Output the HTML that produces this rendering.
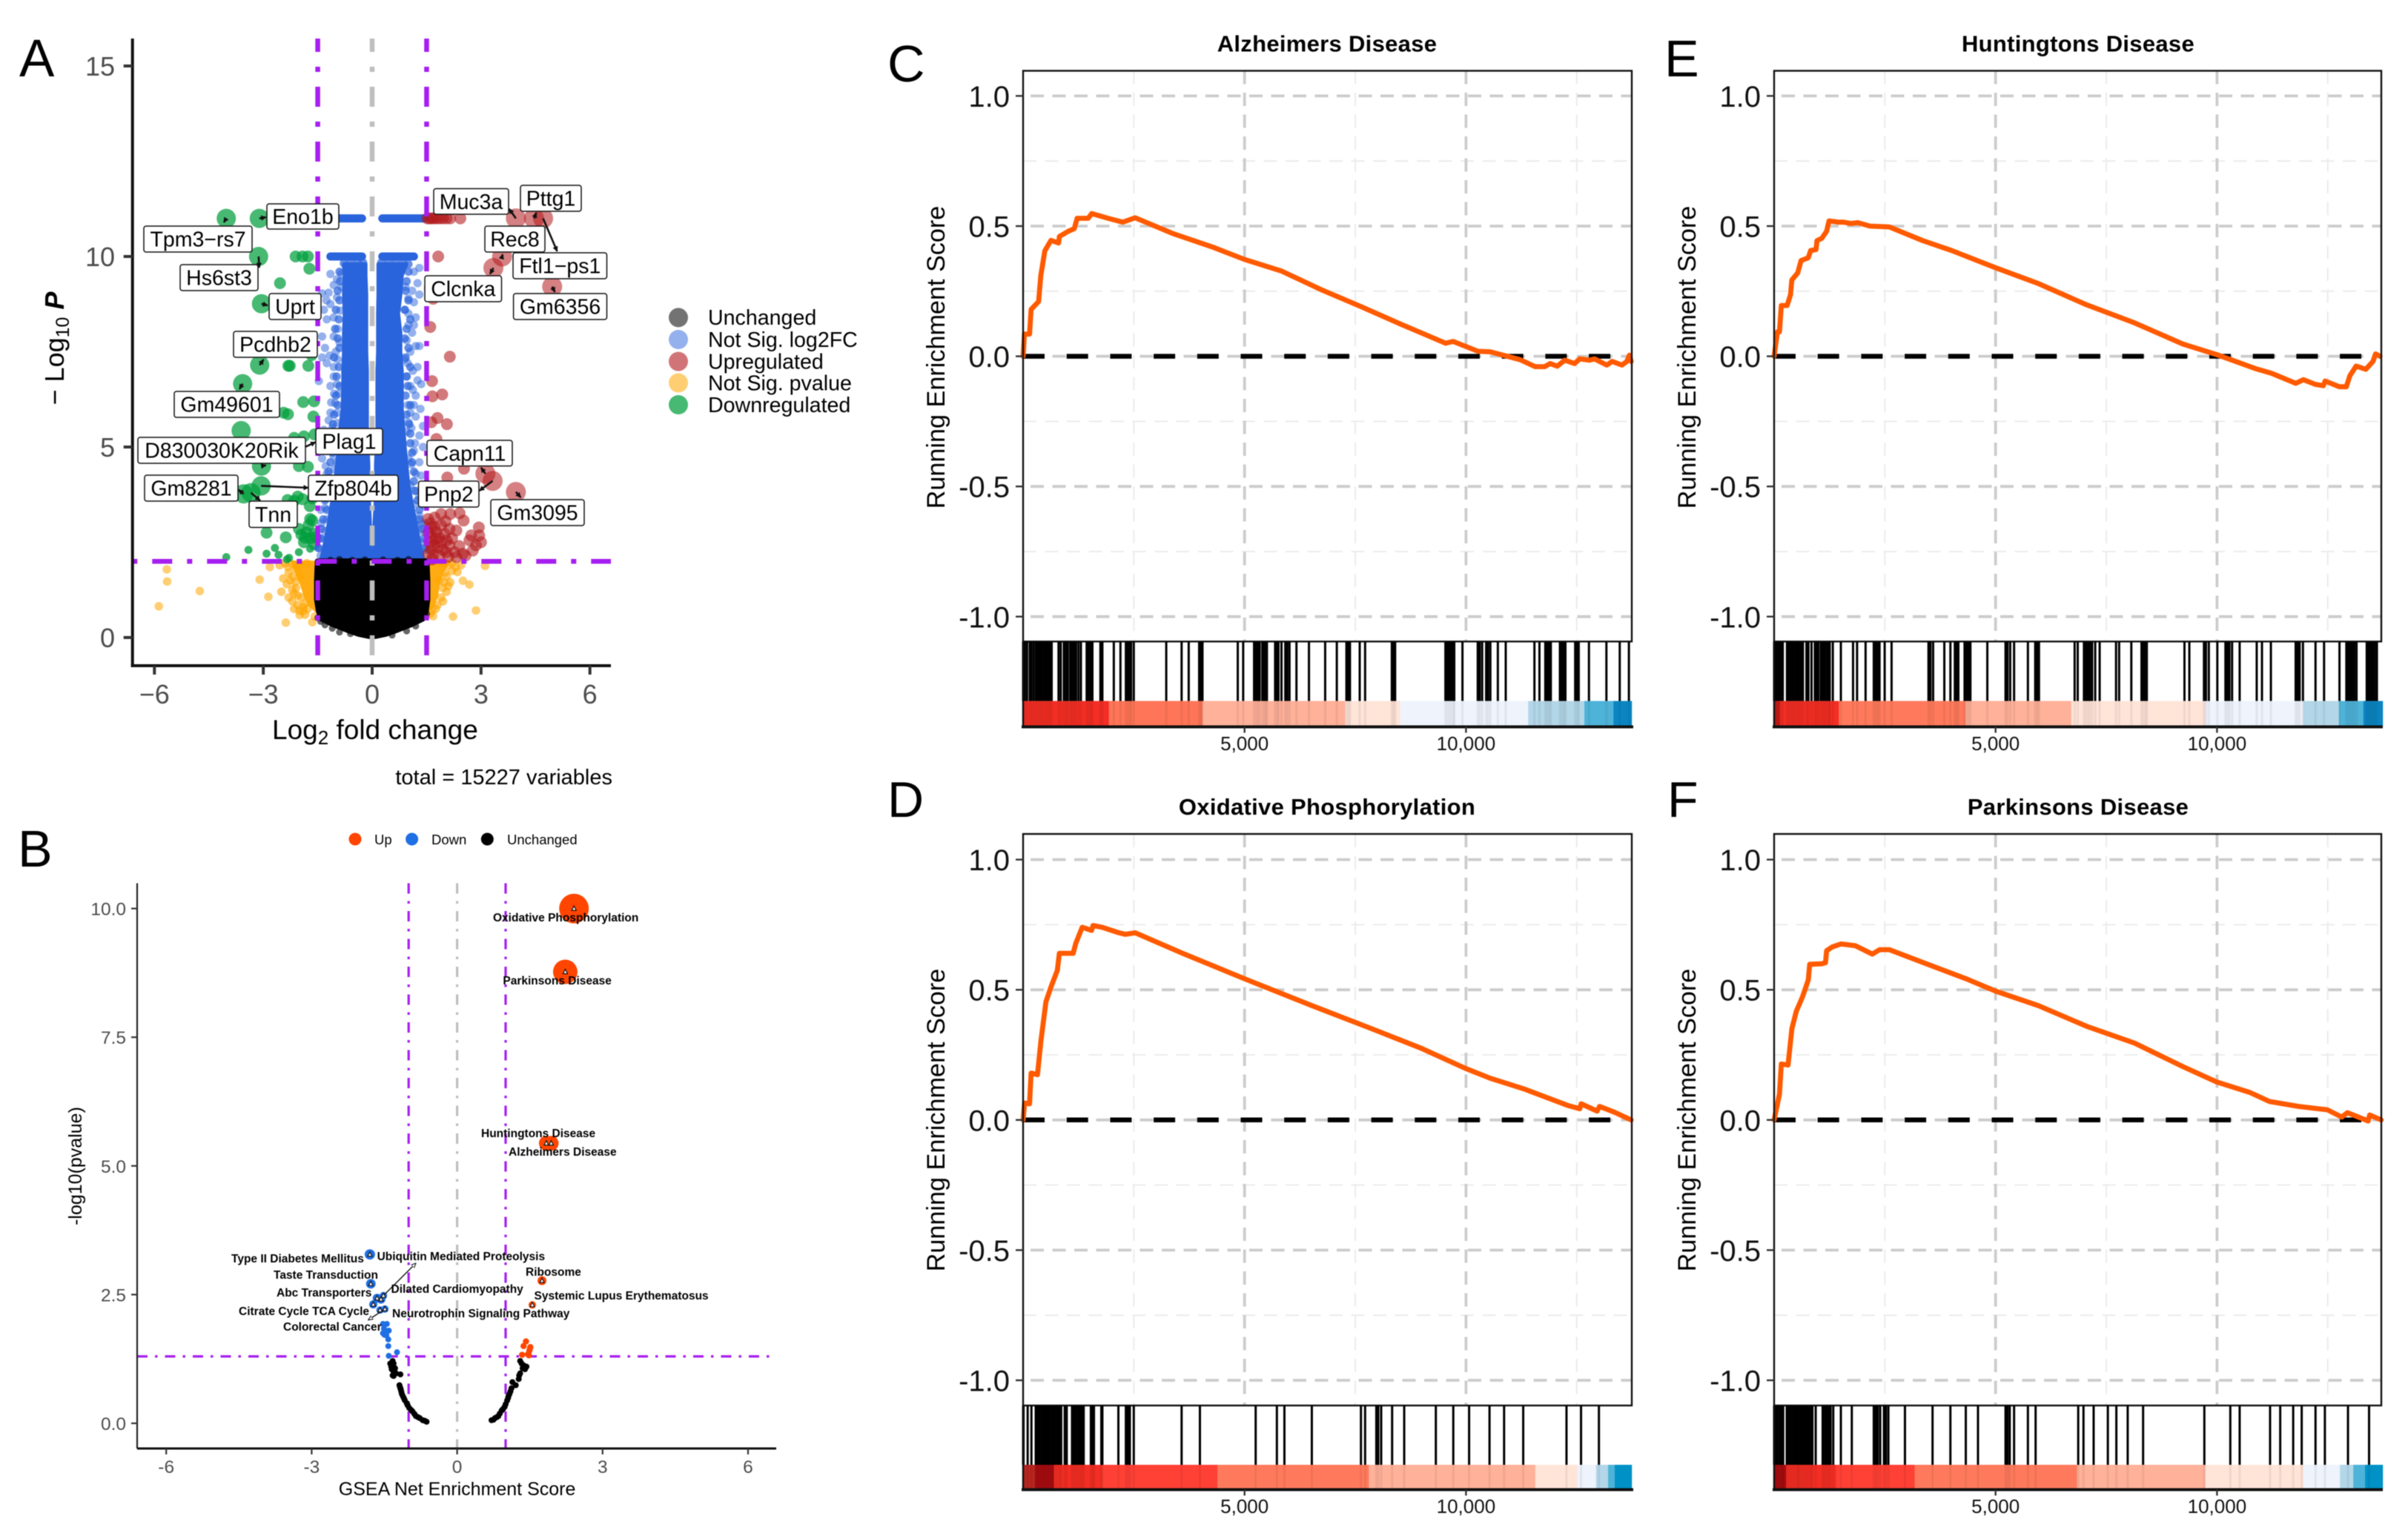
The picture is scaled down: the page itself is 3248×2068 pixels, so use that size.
<!DOCTYPE html>
<html lang="en">
<head>
<meta charset="utf-8">
<title>Volcano and GSEA figure</title>
<style>
html,body{margin:0;padding:0;background:#fff;}
svg{display:block;font-family:"Liberation Sans",Arial,sans-serif;filter:blur(0.6px);}
</style>
</head>
<body>
<svg id="fig" xmlns="http://www.w3.org/2000/svg" width="3248" height="2068" viewBox="0 0 3248 2068">
<rect width="3248" height="2068" fill="#fff"/>
<defs>
<marker id="ah" viewBox="0 0 10 10" refX="9" refY="5" markerWidth="2.8" markerHeight="2.8" orient="auto-start-reverse"><path d="M0 0L10 5L0 10z" fill="#111"/></marker>
<marker id="ahb" viewBox="0 0 10 10" refX="9" refY="5" markerWidth="5" markerHeight="5" orient="auto"><path d="M0 1L9 5L0 9z" fill="#fff" stroke="#111" stroke-width="1.5"/></marker>
</defs>

<text x="26" y="103" font-size="71">A</text>
<text x="24" y="1169" font-size="70">B</text>
<text x="1197" y="110" font-size="70">C</text>
<text x="1197" y="1102" font-size="68">D</text>
<text x="2245" y="103" font-size="70">E</text>
<text x="2249" y="1102" font-size="68">F</text>

<g id="panelA"></g>
<text x="367" y="997" font-size="37">Log<tspan font-size="26" dy="7">2</tspan><tspan dy="-7"> fold change</tspan></text>
<text transform="rotate(-90 86 470)" x="86" y="470" text-anchor="middle" font-size="36">− Log<tspan font-size="25" dy="7">10</tspan><tspan dy="-7"> </tspan><tspan font-style="italic" font-weight="bold">P</tspan></text>
<text x="826" y="1058" text-anchor="end" font-size="29">total = 15227 variables</text>

<g>
<circle cx="915" cy="428.4" r="13" fill="#000" opacity=".55"/>
<circle cx="915" cy="458" r="13" fill="#2a64dc" opacity=".5"/>
<circle cx="915" cy="487.6" r="13" fill="#b2181c" opacity=".6"/>
<circle cx="915" cy="516.5" r="13" fill="#ffa500" opacity=".55"/>
<circle cx="915" cy="546" r="13" fill="#009e3c" opacity=".72"/>
<text x="955" y="438" font-size="28.6">Unchanged</text>
<text x="955" y="468" font-size="28.6">Not Sig. log2FC</text>
<text x="955" y="497.5" font-size="28.6">Upregulated</text>
<text x="955" y="526.5" font-size="28.6">Not Sig. pvalue</text>
<text x="955" y="556" font-size="28.6">Downregulated</text>
</g>

<g id="panelB"></g>
<text x="616.6" y="2026" text-anchor="middle" font-size="25" transform="translate(0,-9)">GSEA Net Enrichment Score</text>
<text transform="rotate(-90 110 1573)" x="110" y="1573" text-anchor="middle" font-size="25">-log10(pvalue)</text>
<g>
<circle cx="479" cy="1132" r="8.5" fill="#ff4500"/>
<circle cx="555.6" cy="1132" r="8.5" fill="#1f6fe5"/>
<circle cx="657.3" cy="1132" r="8.5" fill="#000"/>
<text x="505" y="1139" font-size="18.5">Up</text>
<text x="582" y="1139" font-size="18.5">Down</text>
<text x="684" y="1139" font-size="18.5">Unchanged</text>
</g>

<g id="panelC"></g>
<g id="panelD"></g>
<g id="panelE"></g>
<g id="panelF"></g>

<text x="1790" y="69.5" text-anchor="middle" font-size="31" font-weight="bold" letter-spacing="0.3">Alzheimers Disease</text>
<text x="1790" y="1099" text-anchor="middle" font-size="31" font-weight="bold" letter-spacing="0.3">Oxidative Phosphorylation</text>
<text x="2803" y="69.5" text-anchor="middle" font-size="31" font-weight="bold" letter-spacing="0.3">Huntingtons Disease</text>
<text x="2803" y="1099" text-anchor="middle" font-size="31" font-weight="bold" letter-spacing="0.3">Parkinsons Disease</text>
<text transform="rotate(-90 1274 482)" x="1274" y="482" text-anchor="middle" font-size="34.2">Running Enrichment Score</text>
<text transform="rotate(-90 1274 1511)" x="1274" y="1511" text-anchor="middle" font-size="34.2">Running Enrichment Score</text>
<text transform="rotate(-90 2287 482)" x="2287" y="482" text-anchor="middle" font-size="34.2">Running Enrichment Score</text>
<text transform="rotate(-90 2287 1511)" x="2287" y="1511" text-anchor="middle" font-size="34.2">Running Enrichment Score</text>
</svg>

<script>
/* ---------- Panel A data: log2 fold change, -log10 P ---------- */
const volcanoXTicks = [-6, -3, 0, 3, 6];
const volcanoYTicks = [0, 5, 10, 15];
const volcanoFcCut = 1.5;
const volcanoPCut = 2;

const greenBig = [[-4.02,11],[-3.11,11],[-3.13,10],[-3.05,8.76],[-3.10,7.15],[-3.57,6.66],[-3.61,5.43],[-3.05,4.5],[-3.06,3.98],[-3.34,3.8],[-3.54,3.77]];
const greenSmall = [[-2.11,10],[-1.92,10],[-1.77,10],[-1.73,9.68],[-2.54,9.3],[-2.31,7.13],[-2.27,7.13],[-1.76,7.13],[-1.67,7.41],[-1.9,6.18],[-1.6,6.2],[-2.32,5.86],[-2.44,5.9],[-1.62,5.8],[-2.15,5.24],[-1.88,5.28],[-1.59,5.33],[-2.02,4.5],[-1.77,4.48],[-2.33,3.61],[-1.92,3.63],[-2.15,3.59],[-1.65,3.65],[-1.71,3.11],[-2.02,2.85],[-2.91,2.75],[-2.38,2.63],[-1.81,2.76],[-1.6,2.72],[-1.88,2.5],[-1.56,2.63],[-1.65,3.07],[-1.75,2.95],[-1.85,2.62],[-1.7,2.6],[-1.6,2.45],[-1.95,2.7],[-1.72,3.45],[-2.05,3.7]];
const greenTiny = [[-1.71,2.33],[-2.02,2.24],[-2.68,2.35],[-2.91,2.2],[-2.58,2.17],[-3.41,2.3],[-4.02,2.11],[-2.29,2.09],[-2.35,2.05]];

const redBig = [[3.96,11],[4.46,11],[4.71,11],[3.58,10],[3.34,9.7],[4.96,9.21],[3.12,4.3],[3.32,4.11],[3.96,3.82]];
const redSmall = [[1.82,10],[2.43,11],[1.68,8.89],[1.6,8.15],[2.14,7.37],[1.65,6.73],[1.66,6.33],[1.93,6.38],[1.8,5.76],[1.63,5.65],[2.06,5.6],[1.77,5.21],[2.53,4.43],[2.07,4.2],[1.52,11],[1.58,11],[1.64,11],[1.7,11],[1.78,11],[1.86,11],[1.95,11],[2.05,11],[2.15,11],[1.9,3.24],[2.15,3.24],[2.41,3.26],[2.52,3.07],[1.72,3.15],[1.54,3.11],[2.94,2.89],[1.63,2.89],[1.9,2.94],[2.13,2.85],[2.32,2.81],[1.77,2.76],[2.0,2.72],[2.73,2.68],[2.95,2.68],[2.68,2.55],[3.0,2.5],[1.63,2.63],[1.9,2.5],[2.13,2.42],[2.77,2.28],[2.5,2.2],[2.27,2.24],[2.04,2.24],[1.81,2.37],[1.63,2.33],[1.68,2.15],[2.86,2.42],[2.57,2.15],[2.32,2.11],[1.85,2.62],[2.05,2.55],[1.72,2.9],[1.6,3.0],[1.75,2.6],[1.58,2.5],[1.7,2.42],[1.55,2.75],[1.95,2.3],[2.2,2.6],[1.85,2.15],[2.1,2.12],[1.55,2.2],[2.4,2.4],[2.02,3.05],[1.65,2.05]];

const orangeOutliers = [[-5.66,1.79],[-5.65,1.47],[-4.75,1.22],[-5.88,0.82],[-3.1,1.52],[-2.86,1.07],[-2.82,1.85],[-2.38,0.39],[-2.0,0.59],[-1.65,0.4],[3.11,1.88],[2.5,1.49],[2.68,1.39],[2.86,0.71],[2.23,0.55],[1.68,0.56],[-1.58,0.55],[1.6,0.62]];
const orangeLeft = [[-2.4,1.95],[-2.55,1.9],[-2.3,1.7],[-2.45,1.55],[-2.35,1.4],[-2.5,1.2],[-2.2,1.25],[-2.3,1.05],[-2.2,0.95],[-2.05,0.85],[-2.15,0.75],[-2.0,0.7],[-1.9,0.8],[-1.85,0.6],[-2.2,1.6],[-2.1,1.8],[-2.25,1.5],[-2.1,1.3],[-2.15,1.15],[-1.95,1.05],[-1.85,0.9],[-2.0,1.9],[-2.2,1.92],[-1.8,1.95],[-2.32,1.85],[-2.12,1.45],[-2.0,1.6],[-2.05,1.1],[-1.9,0.7],[-1.78,0.75]];
const orangeRight = [[2.1,1.9],[2.3,1.85],[2.45,1.9],[2.2,1.75],[2.05,1.6],[2.15,1.45],[1.95,1.3],[2.05,1.2],[1.9,1.05],[1.95,0.95],[1.8,0.85],[1.75,0.75],[1.65,0.7],[2.0,1.7],[1.85,1.5],[1.9,1.93],[2.0,1.95],[2.2,1.95],[2.35,1.72],[2.1,1.35],[1.98,1.45]];
const orangeBandY = [1.98,1.7,1.4,1.1,0.85,0.7];
const orangeBandLeft = [-2.2,-2.08,-1.95,-1.85,-1.72,-1.55];
const orangeBandRight = [2.1,1.92,1.82,1.78,1.68,1.55];

const blueScatter = [[-1.15,9.54],[-0.97,9.4],[-1.06,9.25],[-0.85,9.2],[-1.38,9.03],[-1.26,8.85],[-0.97,8.93],[-1.25,8.35],[-1.06,8.4],[-0.88,8.58],[-1.38,7.9],[-1.06,7.9],[-1.3,7.6],[-1.17,7.4],[-1.25,7.2],[-1.06,7.1],[-1.47,6.73],[-1.06,6.85],[-1.15,6.6],[-0.97,6.65],[-1.13,6.17],[-1.15,5.9],[-1.02,6.15],[-0.97,5.9],[-1.33,5.45],[-0.97,5.63],[-1.15,5.2],[-1.42,5.28],[-0.97,5],[-1.24,4.89],[-1.06,4.76],[-0.97,4.58],[-1.28,4.5],[-1.06,4.41],[-1.2,4.1],[-1.35,3.8],[-1.1,3.9],[-1.3,3.4],[-1.25,3.1],[-1.4,3.0],[-1.4,2.6],[-1.3,2.8],[-0.95,8.1],[-0.9,7.75],[-1.0,7.5],[-0.95,7.3],[-1.15,8.75],[-1.33,8.6],[-1.2,9.05],[-0.92,6.4],[-1.05,6.4],[-0.98,5.35],[-1.1,5.5],[-1.2,5.7],[-1.25,4.3],[-1.38,4.7],[-1.45,4.15],[-1.28,3.65],[-1.42,3.35],[-1.48,2.35],[-1.42,2.15],[-0.85,9.55],[-1.38,7.35],
[1.3,9.7],[1.15,9.6],[1.25,9.3],[1.1,9.1],[1.3,9.0],[1.0,8.9],[1.15,8.8],[1.0,8.5],[1.2,8.4],[1.0,8.2],[1.1,8.0],[0.95,7.8],[1.3,7.65],[1.2,7.65],[1.05,7.5],[1.25,7.1],[0.98,7.2],[1.35,6.65],[1.05,6.6],[1.12,6.5],[1.2,6.35],[0.98,6.1],[1.33,6.0],[1.05,5.9],[1.2,5.8],[1.08,5.5],[1.3,5.3],[0.95,5.4],[1.4,5.0],[1.15,4.9],[1.0,4.7],[1.3,4.6],[1.2,4.3],[1.05,4.0],[1.3,3.7],[1.15,3.5],[1.3,3.2],[1.45,3.0],[1.35,2.8],[1.4,2.5],[0.92,9.2],[0.9,8.6],[1.15,8.2],[0.9,7.3],[1.12,7.0],[0.95,6.85],[1.25,6.75],[1.15,6.1],[1.0,5.65],[1.4,5.55],[1.18,5.1],[1.08,4.55],[1.35,4.25],[1.45,3.45],[1.15,3.85],[1.22,2.95],[1.48,2.3],[1.35,3.0]];
const blueEdge = [[-0.9,9.6],[-0.88,9.35],[-0.95,9.1],[-0.9,8.85],[-1.0,8.6],[-0.92,8.35],[-1.02,8.1],[-0.95,7.85],[-0.9,7.6],[-1.05,7.35],[-0.92,7.1],[-0.98,6.85],[-0.9,6.6],[-1.0,6.35],[-0.95,6.1],[-1.05,5.85],[-1.08,5.6],[-1.0,5.35],[-1.12,5.1],[-1.1,4.85],[-1.15,4.6],[-1.2,4.35],[-1.2,4.1],[-1.25,3.85],[-1.3,3.6],[-1.25,3.35],[-1.35,3.1],[-1.4,2.85],[-1.42,2.6],[-1.48,2.35],
[1.0,9.6],[0.95,9.35],[0.92,9.1],[1.0,8.85],[0.9,8.6],[1.05,8.35],[0.95,8.1],[0.9,7.85],[1.0,7.6],[0.92,7.35],[1.05,7.1],[0.95,6.85],[0.98,6.6],[0.92,6.35],[1.05,6.1],[0.95,5.85],[1.02,5.6],[1.05,5.35],[1.05,5.1],[1.1,4.85],[1.1,4.6],[1.15,4.35],[1.15,4.1],[1.2,3.85],[1.25,3.6],[1.3,3.35],[1.3,3.1],[1.38,2.85],[1.42,2.6],[1.46,2.35],
[-0.78,9.82],[-0.6,9.84],[-0.4,9.84],[-0.25,9.84],[0.25,9.84],[0.45,9.84],[0.65,9.84],[0.85,9.82],[1.0,9.8]];

const blueBandY = [2.0,2.5,3,3.5,4,4.5,5,5.5,6,6.5,7,7.5,8,8.5,9,9.5,9.8];
const blueLeftOuter = [-1.42,-1.3,-1.2,-1.12,-1.02,-0.98,-0.92,-0.88,-0.82,-0.8,-0.8,-0.78,-0.78,-0.76,-0.78,-0.76,-0.78];
const blueLeftInner = [-0.04,-0.05,-0.06,-0.08,-0.11,-0.1,-0.12,-0.14,-0.14,-0.14,-0.14,-0.16,-0.16,-0.16,-0.16,-0.18,-0.18];
const blueRightOuter = [1.42,1.3,1.2,1.1,1.0,0.95,0.9,0.86,0.82,0.82,0.82,0.78,0.78,0.72,0.78,0.82,0.95];
const blueRightInner = [0.04,0.06,0.06,0.09,0.11,0.1,0.12,0.14,0.14,0.14,0.14,0.16,0.16,0.16,0.17,0.17,0.17];
const blueRow11 = [-1.4,-0.28,0.28,1.45];
const blueRow10 = [-1.15,-0.28,0.28,1.15];

const blackBandY = [2.0,1.5,1.0,0.7,0.5,0.35,0.2,0.1,0.04];
const blackLeft = [-1.5,-1.52,-1.52,-1.47,-1.4,-1.08,-0.68,-0.38,-0.08];
const blackRight = [1.5,1.52,1.52,1.48,1.4,1.08,0.68,0.38,0.08];
const blackEdge = [[-1.5,0.52],[-1.42,0.42],[-1.3,0.33],[-1.1,0.24],[-0.9,0.14],[-0.6,0.1],[1.5,0.62],[1.48,0.55],[1.2,0.3],[0.95,0.17],[0.55,0.06],[-1.15,2.03],[-0.9,2.05],[-0.55,2.03],[-0.2,2.04],[0.3,2.04],[0.7,2.03],[1.0,2.05]];

const calloutNames = ['Tpm3−rs7','Eno1b','Hs6st3','Uprt','Pcdhb2','Gm49601','D830030K20Rik','Plag1','Gm8281','Zfp804b','Tnn','Muc3a','Pttg1','Rec8','Ftl1−ps1','Clcnka','Gm6356','Capn11','Pnp2','Gm3095'];
const calloutPointX = [-4.02,-3.11,-3.13,-3.05,-3.10,-3.57,-3.05,-1.85,-3.54,-3.06,-3.34,3.96,4.46,3.58,4.71,3.34,4.96,3.12,3.32,3.96];
const calloutPointY = [11,11,10,8.76,7.15,6.66,4.5,5.0,3.77,3.98,3.8,11,11,10,11,9.7,9.21,4.3,4.11,3.82];
/* label layout in page pixels, not data: left, top, right, bottom, arrow tip x, y */
const calloutLayout = [[194,305,340,340,302,300],[360,275,457,309,358.7,293],[243,357,348,392,349.7,361],[363,396,433,431,361,412],[315,447,428,482,355.5,485],[235,528,377,563,323,525],[186,590,412,625,358.7,627.7],[426,578,516,613,425.6,596.4],[195,641,321,676,321.6,660.7],[416,641,537,676,416,658],[336,676,401,711.5,351,675.4],[585,254.5,686,289,686.8,281.7],[702,250,784,285,723.4,287],[654,305,735,340,678,343],[692,341,818.5,376,751.5,339],[573,372,676.5,407,661,369.6],[692.6,396,818.5,431,748.4,394],[576,594,691,628.6,648.8,630.8],[564.5,649,646,684,646.6,662],[662,674,788,709,702.4,671]];

/* ---------- Panel B data: NES, -log10 p ---------- */
const pathwayXTicks = [-6,-3,0,3,6];
const pathwayYTicks = [0,2.5,5,7.5,10];
const pathwayYTickLabels = ['0.0','2.5','5.0','7.5','10.0'];
const pathwayFcCut = 1;
const pathwayPCut = 1.3;
const upLarge = [[2.41,10.0,20],[2.23,8.77,16.5],[1.84,5.44,10],[1.94,5.44,10],[1.75,2.77,6],[1.55,2.3,5]];
const upSmall = [[1.42,1.59],[1.37,1.5],[1.51,1.48],[1.49,1.41],[1.46,1.34],[1.34,1.33],[1.48,1.32],[1.5,1.45]];
const downLarge = [[-1.8,3.28,7],[-1.78,2.71,6.5],[-1.65,2.43,6],[-1.57,2.41,6],[-1.52,2.48,5],[-1.73,2.31,5.5],[-1.59,2.2,5],[-1.49,2.22,5]];
const downSmall = [[-1.53,1.93],[-1.45,1.93],[-1.51,1.84],[-1.44,1.79],[-1.41,1.8],[-1.53,1.75],[-1.46,1.71],[-1.42,1.63],[-1.42,1.5],[-1.24,1.38],[-1.41,1.31],[-1.48,1.78],[-1.5,1.72]];
const unchangedPathways = [[-1.33,1.21],[-1.38,1.16],[-1.31,1.16],[-1.36,1.1],[-1.28,1.07],[-1.33,1.03],[-1.26,0.97],[-1.33,0.93],[-1.17,0.95],[-1.31,0.92],[-1.29,1.0],[-1.35,1.05],[-1.19,0.74],[-1.17,0.68],[-1.18,0.71],[-1.15,0.61],[-1.16,0.65],[-1.12,0.53],[-1.14,0.57],[-1.08,0.45],[-1.1,0.49],[-1.04,0.39],[-0.99,0.3],[-1.02,0.35],[-0.92,0.23],[-0.95,0.26],[-0.85,0.14],[-0.88,0.18],[-0.77,0.1],[-0.81,0.12],[-0.71,0.06],[-0.63,0.03],[-0.67,0.05],
[1.3,1.21],[1.33,1.16],[1.38,1.12],[1.43,1.1],[1.35,1.07],[1.4,1.05],[1.28,0.93],[1.27,0.86],[1.3,0.97],[1.14,0.8],[1.21,0.74],[1.1,0.62],[1.12,0.68],[1.06,0.53],[1.08,0.57],[1.03,0.44],[1.05,0.49],[0.98,0.32],[1.0,0.37],[0.92,0.25],[0.95,0.28],[0.85,0.14],[0.88,0.19],[0.78,0.1],[0.82,0.12],[0.71,0.06],[0.75,0.07]];
const pathwayNames = ['Oxidative Phosphorylation','Parkinsons Disease','Huntingtons Disease','Alzheimers Disease','Type II Diabetes Mellitus','Ubiquitin Mediated Proteolysis','Taste Transduction','Ribosome','Dilated Cardiomyopathy','Systemic Lupus Erythematosus','Abc Transporters','Citrate Cycle TCA Cycle','Neurotrophin Signaling Pathway','Colorectal Cancer'];
const pathwayPointX = [2.41,2.23,1.84,1.94,-1.8,-1.52,-1.78,1.75,-1.65,1.55,-1.73,-1.57,-1.49,-1.59];
const pathwayPointY = [10.0,8.77,5.44,5.44,3.28,2.48,2.71,2.77,2.43,2.3,2.31,2.41,2.22,2.2];
/* label layout in page pixels: text left, baseline */
const pathwayLabelLayout = [[665,1243],[678.4,1328],[649,1534],[686,1559],[312,1703],[508.6,1700],[369,1725],[709,1721],[527.5,1744],[720.5,1753],[373,1749],[322,1774],[529,1777],[382,1795]];
const arrowFromPoints = [5,12];
const arrowTipsPx = [[561,1704],[496.7,1780.7]];

/* ---------- Panels C-F data: gene rank, running enrichment score ---------- */
const rankTicks = [5000,10000];
const rankTickLabels = ['5,000','10,000'];
const rankMinor = [2500,7500,12500];
const esMajor = [1,0.5,0,-0.5,-1];
const esMajorLabels = ['1.0','0.5','0.0','-0.5','-1.0'];
const esMinor = [0.75,0.25,-0.25,-0.75];

const alzRank = [0,30,145,180,350,400,490,630,800,820,1020,1155,1220,1470,1550,1920,2250,2530,3370,4270,5000,5840,6740,7640,8530,9540,9710,10270,10550,11220,11560,11780,11900,12060,12230,12450,12570,12790,12900,13180,13300,13520,13630,13690,13730];
const alzScore = [0,0.085,0.085,0.18,0.21,0.31,0.405,0.445,0.435,0.46,0.48,0.49,0.53,0.53,0.548,0.53,0.515,0.532,0.472,0.42,0.372,0.327,0.255,0.19,0.123,0.05,0.057,0.019,0.017,-0.013,-0.04,-0.04,-0.028,-0.038,-0.015,-0.028,-0.01,-0.015,-0.01,-0.034,-0.02,-0.034,-0.02,0.004,-0.02];
const alzHits = [0,40,90,150,190,240,290,335,380,425,470,515,560,605,645,800,850,920,970,1010,1065,1105,1150,1195,1250,1305,1435,1480,1525,1565,1745,1790,2048,2198,2320,2365,2410,2438,2499,3232,3579,3739,3975,4015,4050,4847,4969,5215,5260,5300,5340,5400,5445,5480,5505,5690,5735,5765,5834,5920,5965,6015,6172,6454,6820,7083,7300,7345,7380,7600,7722,8325,8365,8400,9535,9580,9625,9670,9715,9735,9920,10265,10310,10365,10455,10500,10550,10719,10897,11545,11658,11790,11835,11880,11915,12120,12165,12210,12245,12465,12510,12545,12776,13170,13471,13678];
const alzBinEnd = [1935,4049,7271,8511,11404,12672,13330,13740];
const alzBinColor = ['#f42e24','#ff7558','#ffb199','#ffe4d8','#eef3fc','#b3d7e8','#4eb3d9','#0b85c2'];

const oxRank = [0,34,146,180,325,404,516,628,774,818,1130,1188,1334,1547,1580,1783,2140,2310,2530,3600,5000,6510,7860,8980,9990,10550,11330,12290,12570,12600,12960,13015,13350,13730];
const oxScore = [0,0.065,0.062,0.18,0.174,0.305,0.454,0.51,0.575,0.64,0.64,0.678,0.74,0.728,0.747,0.74,0.72,0.713,0.719,0.64,0.542,0.44,0.351,0.276,0.198,0.16,0.118,0.056,0.043,0.062,0.034,0.052,0.03,0];
const oxHits = [0,10,103,188,285,330,375,420,465,510,555,600,645,690,735,780,825,860,940,985,1105,1150,1195,1240,1285,1330,1368,1530,1570,1600,1766,1790,2151,2320,2365,2410,2499,3579,3992,5251,5730,5900,6519,7628,7722,7975,8020,8085,8332,8605,9319,9713,10070,10531,10860,11292,12269,12597,13001];
const oxBinEnd = [270,695,1775,4387,7806,11564,12513,12936,13208,13358,13740];
const oxBinColor = ['#b8261f','#a80c0f','#f42e24','#ff4035','#ff7a5c','#ffb199','#ffe4d8','#eef3fc','#b3d7e8','#4eb3d9','#0091c7'];

const hunRank = [0,76,120,163,293,370,400,533,609,770,826,945,967,1076,1185,1240,1457,1570,1728,1890,2163,2600,3360,4010,5000,5970,7050,8140,9230,10000,10860,11240,11780,11950,12220,12400,12440,12760,12920,13000,13140,13360,13520,13580,13680];
const hunScore = [0,0.094,0.094,0.195,0.195,0.236,0.293,0.32,0.368,0.378,0.406,0.41,0.444,0.453,0.48,0.52,0.515,0.515,0.51,0.513,0.5,0.497,0.444,0.406,0.34,0.279,0.198,0.128,0.047,0.006,-0.047,-0.066,-0.104,-0.09,-0.108,-0.113,-0.095,-0.117,-0.117,-0.075,-0.038,-0.05,-0.02,0.009,0];
const hunHits = [0,25,60,105,150,195,290,335,380,425,470,515,560,605,650,730,775,845,920,960,1000,1055,1100,1145,1190,1235,1255,1325,1507,1782,1873,2065,2250,2295,2340,2380,2496,2652,3485,3530,3590,3843,3980,4080,4120,4160,4300,4345,4390,4432,4814,5225,5270,5330,5418,5730,5895,5940,5980,6785,6855,6995,7040,7085,7130,7180,7250,7350,7720,7790,8065,8295,8340,8385,8415,9265,9375,9705,9750,9815,10007,10190,10235,10280,10340,10511,10896,11015,11216,11775,11820,11865,11940,12224,12417,12765,12920,12965,13010,13055,13100,13150,13380,13425,13470,13515,13560,13610];
const hunBinEnd = [130,1461,4319,6710,9733,11950,12755,13305,13740];
const hunBinColor = ['#c81b17','#f42e24','#ff7a5c','#ffb199','#ffe4d8','#eef3fc','#b3d7e8','#4eb3d9','#0b85c2'];

const parRank = [0,120,163,315,402,500,641,772,804,1076,1160,1185,1315,1511,1837,2217,2380,2600,3467,4337,5000,5967,7054,8141,9228,9990,10750,11185,11837,12490,12815,12945,13413,13446,13707];
const parScore = [0,0.099,0.215,0.211,0.351,0.417,0.473,0.538,0.598,0.6,0.604,0.65,0.665,0.676,0.669,0.637,0.654,0.654,0.598,0.542,0.495,0.439,0.36,0.295,0.205,0.146,0.105,0.071,0.052,0.039,0.011,0.028,-0.004,0.019,0];
const parHits = [0,45,90,135,180,205,285,330,375,420,465,510,545,560,605,650,695,740,785,830,865,939,1095,1140,1185,1230,1275,1335,1507,1754,2250,2295,2340,2395,2480,2525,2580,2954,3577,3980,4328,4603,5225,5270,5320,5418,5730,5904,6866,6985,7214,7535,7727,7983,8331,9714,10300,10511,11198,11427,11720,11912,12224,12435,12957,13433];
const parBinEnd = [270,1400,3173,6838,9733,11950,12775,13077,13343,13740];
const parBinColor = ['#a80c0f','#f42e24','#ff4035','#ff7a5c','#ffb199','#ffe4d8','#eef3fc','#b3d7e8','#4eb3d9','#0091c7'];

/* ---------- helpers ---------- */
const NS = 'http://www.w3.org/2000/svg';
function mk(tag, attrs, parent) {
  const el = document.createElementNS(NS, tag);
  for (const k in attrs) el.setAttribute(k, attrs[k]);
  parent.appendChild(el);
  return el;
}
function bandPath(ys, a, b, sx, sy) {
  const pts = [];
  ys.forEach((y, i) => pts.push(sx(a[i]).toFixed(1) + ',' + sy(y).toFixed(1)));
  for (let i = ys.length - 1; i >= 0; i--) pts.push(sx(b[i]).toFixed(1) + ',' + sy(ys[i]).toFixed(1));
  return pts.join(' ');
}

/* ---------- Panel A ---------- */
(function () {
  const root = document.getElementById('panelA');
  const sx = v => 502 + 48.95 * v;
  const sy = v => 860 - 51.4 * v;
  const AX_L = 178.7, AX_B = 898, AX_R = 824, AX_T = 52;

  function dots(list, r, fill, op, name) {
    list.forEach(d => {
      const c = mk('circle', {cx: sx(d[0]), cy: sy(d[1]), r: r, fill: fill, opacity: op}, root);
      
      
    });
  }
  function band(ys, a, b, fill, sw, name, op) {
    const p = mk('polygon', {points: bandPath(ys, a, b, sx, sy), fill: fill, stroke: fill, 'stroke-width': sw, 'stroke-linejoin': 'round', opacity: op}, root);
    
    
  }
  function row(y, from, to, color, name) {
    const l = mk('line', {x1: sx(from), x2: sx(to), y1: sy(y), y2: sy(y), stroke: color, 'stroke-width': 11, 'stroke-linecap': 'round'}, root);
    
    
  }

  band(orangeBandY, orangeBandLeft, orangeBandRight, '#ffa500', 4, 'not-sig-pvalue-density', 0.92);
  dots(orangeOutliers, 5.8, '#ffa500', 0.55, 'not-sig-pvalue-point');
  dots(orangeLeft, 5.8, '#ffa500', 0.6, 'not-sig-pvalue-point');
  dots(orangeRight, 5.8, '#ffa500', 0.6, 'not-sig-pvalue-point');

  dots(greenBig, 13, '#009e3c', 0.72, 'downregulated-point-large');
  dots(greenSmall, 8, '#009e3c', 0.72, 'downregulated-point');
  dots(greenTiny, 5.4, '#009e3c', 0.78, 'downregulated-point-small');

  dots(blueScatter, 5.6, '#2a64dc', 0.5, 'not-sig-log2fc-point');
  dots(blueEdge, 5.6, '#2a64dc', 0.72, 'not-sig-log2fc-edge-point');
  band(blueBandY, blueLeftOuter, blueLeftInner, '#2a64dc', 5, 'not-sig-log2fc-density-left', 1);
  band(blueBandY, blueRightInner, blueRightOuter, '#2a64dc', 5, 'not-sig-log2fc-density-right', 1);
  row(11, blueRow11[0], blueRow11[1], '#2a64dc', 'not-sig-log2fc-row-11');
  row(11, blueRow11[2], blueRow11[3], '#2a64dc', 'not-sig-log2fc-row-11');
  row(10, blueRow10[0], blueRow10[1], '#2a64dc', 'not-sig-log2fc-row-10');
  row(10, blueRow10[2], blueRow10[3], '#2a64dc', 'not-sig-log2fc-row-10');

  dots(redBig, 13.5, '#b2181c', 0.55, 'upregulated-point-large');
  dots(redSmall, 8, '#b2181c', 0.58, 'upregulated-point');

  band(blackBandY, blackLeft, blackRight, '#000', 8, 'unchanged-density', 1);
  dots(blackEdge, 4.6, '#000', 0.6, 'unchanged-point');

  /* threshold lines */
  function thresh(x1, y1, x2, y2, color, off, name) {
    const l = mk('line', {x1: x1, y1: y1, x2: x2, y2: y2, stroke: color, 'stroke-width': 6.5, 'stroke-dasharray': '27 20 7 20', 'stroke-dashoffset': off}, root);
    
    
  }
  thresh(sx(0), AX_T, sx(0), AX_B, '#bebebe', 9, 'zero-fold-change-line');
  thresh(sx(-volcanoFcCut), AX_T, sx(-volcanoFcCut), AX_B, '#a61ef0', 9, 'fold-change-threshold-negative');
  thresh(sx(volcanoFcCut), AX_T, sx(volcanoFcCut), AX_B, '#a61ef0', 9, 'fold-change-threshold-positive');
  thresh(AX_L, sy(volcanoPCut), AX_R, sy(volcanoPCut), '#a61ef0', 47.4, 'p-value-threshold-line');

  /* axes */
  let a = mk('line', {x1: AX_L, x2: AX_L, y1: AX_T, y2: AX_B + 2, stroke: '#111', 'stroke-width': 4}, root);
  
  
  a = mk('line', {x1: AX_L - 2, x2: AX_R, y1: AX_B, y2: AX_B, stroke: '#111', 'stroke-width': 4}, root);
  
  
  volcanoXTicks.forEach(v => {
    const t = mk('line', {x1: sx(v), x2: sx(v), y1: AX_B, y2: AX_B + 12, stroke: '#333', 'stroke-width': 4}, root);
    
    
    const l = mk('text', {x: sx(v), y: 949, 'text-anchor': 'middle', 'font-size': 36, fill: '#4d4d4d'}, root);
    
    
    l.textContent = String(v).replace('-', '−');
  });
  volcanoYTicks.forEach(v => {
    const t = mk('line', {x1: AX_L - 12, x2: AX_L, y1: sy(v), y2: sy(v), stroke: '#333', 'stroke-width': 4}, root);
    
    
    const l = mk('text', {x: 155, y: sy(v) + 13, 'text-anchor': 'end', 'font-size': 36, fill: '#4d4d4d'}, root);
    
    
    l.textContent = v;
  });

  /* callouts */
  calloutNames.forEach((name, i) => {
    const b = calloutLayout[i];
    const ar = mk('line', {x1: sx(calloutPointX[i]), y1: sy(calloutPointY[i]), x2: b[4], y2: b[5], stroke: '#111', 'stroke-width': 2.6, 'marker-end': 'url(#ah)'}, root);
    
    
    const r = mk('rect', {x: b[0], y: b[1], width: b[2] - b[0], height: b[3] - b[1], rx: 3, fill: '#fff', stroke: '#111', 'stroke-width': 1.5}, root);
    
    
    const t = mk('text', {x: (b[0] + b[2]) / 2, y: (b[1] + b[3]) / 2 + 10, 'text-anchor': 'middle', 'font-size': 28.5, fill: '#000'}, root);
    
    
    t.textContent = name;
  });
})();

/* ---------- Panel B ---------- */
(function () {
  const root = document.getElementById('panelB');
  const sx = v => 616.6 + 65.4 * v;
  const sy = v => 1920 - 69.44 * v;
  const AX_L = 185, AX_B = 1954, AX_R = 1047, AX_T = 1191.5;

  function thresh(x1, y1, x2, y2, color, name) {
    const l = mk('line', {x1: x1, y1: y1, x2: x2, y2: y2, stroke: color, 'stroke-width': 3.2, 'stroke-dasharray': '14 10 3.5 10'}, root);
    
    
  }
  thresh(sx(0), AX_T, sx(0), AX_B, '#bebebe', 'zero-nes-line');
  thresh(sx(-pathwayFcCut), AX_T, sx(-pathwayFcCut), AX_B, '#a61ef0', 'nes-threshold-negative');
  thresh(sx(pathwayFcCut), AX_T, sx(pathwayFcCut), AX_B, '#a61ef0', 'nes-threshold-positive');
  thresh(AX_L, sy(pathwayPCut), AX_R, sy(pathwayPCut), '#a61ef0', 'pvalue-threshold-line');

  upLarge.forEach(d => {
    const c = mk('circle', {cx: sx(d[0]), cy: sy(d[1]), r: d[2], fill: '#ff4500'}, root);
    
    
  });
  upSmall.forEach(d => {
    const c = mk('circle', {cx: sx(d[0]), cy: sy(d[1]), r: 4.2, fill: '#ff4500'}, root);
    
    
  });
  downLarge.forEach(d => {
    const c = mk('circle', {cx: sx(d[0]), cy: sy(d[1]), r: d[2], fill: '#1f6fe5'}, root);
    
    
  });
  downSmall.forEach(d => {
    const c = mk('circle', {cx: sx(d[0]), cy: sy(d[1]), r: 4, fill: '#1f6fe5'}, root);
    
    
  });
  unchangedPathways.forEach(d => {
    const c = mk('circle', {cx: sx(d[0]), cy: sy(d[1]), r: 4, fill: '#000'}, root);
    
    
  });

  arrowFromPoints.forEach((idx, j) => {
    const tip = arrowTipsPx[j];
    const l = mk('line', {x1: sx(pathwayPointX[idx]), y1: sy(pathwayPointY[idx]), x2: tip[0], y2: tip[1], stroke: '#111', 'stroke-width': 1.4, 'marker-end': 'url(#ahb)'}, root);
    
    
  });

  pathwayNames.forEach((name, i) => {
    const px = sx(pathwayPointX[i]), py = sy(pathwayPointY[i]);
    const tri = mk('polygon', {points: [px - 3, py + 2.5, px + 3, py + 2.5, px, py - 3.5].join(' '), fill: '#fff', stroke: '#111', 'stroke-width': 1.2}, root);
    
    
    const t = mk('text', {x: pathwayLabelLayout[i][0], y: pathwayLabelLayout[i][1], 'font-size': 15.5, 'font-weight': 'bold', fill: '#000'}, root);
    
    
    t.textContent = name;
  });

  let a = mk('line', {x1: AX_L, x2: AX_L, y1: AX_T, y2: AX_B, stroke: '#222', 'stroke-width': 2.2}, root);
  
  
  a = mk('line', {x1: AX_L, x2: AX_R, y1: AX_B, y2: AX_B, stroke: '#111', 'stroke-width': 3}, root);
  
  
  pathwayXTicks.forEach(v => {
    const t = mk('line', {x1: sx(v), x2: sx(v), y1: AX_B, y2: AX_B + 8, stroke: '#333', 'stroke-width': 2.2}, root);
    
    
    const l = mk('text', {x: sx(v), y: 1987, 'text-anchor': 'middle', 'font-size': 24.5, fill: '#4d4d4d'}, root);
    
    
    l.textContent = v;
  });
  pathwayYTicks.forEach((v, i) => {
    const t = mk('line', {x1: AX_L - 8, x2: AX_L, y1: sy(v), y2: sy(v), stroke: '#333', 'stroke-width': 2.2}, root);
    
    
    const l = mk('text', {x: 170, y: sy(v) + 9, 'text-anchor': 'end', 'font-size': 24.5, fill: '#4d4d4d'}, root);
    
    
    l.textContent = pathwayYTickLabels[i];
  });
})();

/* ---------- Panels C-F ---------- */
function gseaPanel(rootId, L, R, T, B, Y0, RUG, BAR, LAB, ranks, scores, hits, binEnd, binColor) {
  const root = document.getElementById(rootId);
  const sx = v => L + v * 0.05974;
  const sy = v => Y0 - 351.2 * v;

  rankMinor.forEach(v => {
    const g = mk('line', {x1: sx(v), x2: sx(v), y1: T, y2: B, stroke: '#ececec', 'stroke-width': 2, 'stroke-dasharray': '18 11.5'}, root);
    
    
  });
  esMinor.forEach(v => {
    const g = mk('line', {x1: L, x2: R, y1: sy(v), y2: sy(v), stroke: '#ececec', 'stroke-width': 2, 'stroke-dasharray': '18 11.5'}, root);
    
    
  });
  rankTicks.forEach(v => {
    const g = mk('line', {x1: sx(v), x2: sx(v), y1: T, y2: B, stroke: '#cccccc', 'stroke-width': 3.8, 'stroke-dasharray': '18 11.5'}, root);
    
    
  });
  esMajor.forEach(v => {
    const g = mk('line', {x1: L + 10, x2: R, y1: sy(v), y2: sy(v), stroke: '#cccccc', 'stroke-width': 3.8, 'stroke-dasharray': '18 11.5'}, root);
    
    
  });

  const zero = mk('line', {x1: L, x2: R, y1: sy(0), y2: sy(0), stroke: '#000', 'stroke-width': 6.5, 'stroke-dasharray': '29 29.7'}, root);
  
  

  const path = mk('path', {d: ranks.map((r, i) => (i ? 'L' : 'M') + sx(r).toFixed(1) + ' ' + sy(scores[i]).toFixed(1)).join(''), fill: 'none', stroke: '#ff5a00', 'stroke-width': 6.8, 'stroke-linejoin': 'round', 'stroke-linecap': 'round'}, root);
  
  

  const frame = mk('rect', {x: L, y: T, width: R - L, height: B - T, fill: 'none', stroke: '#111', 'stroke-width': 2.4}, root);
  
  

  let prev = 0;
  binEnd.forEach((e, i) => {
    const r = mk('rect', {x: sx(prev), y: RUG, width: Math.max(sx(e) - sx(prev), 0) + 0.4, height: BAR - RUG, fill: binColor[i]}, root);
    
    
    prev = e;
  });

  hits.forEach(h => {
    const r = mk('rect', {x: sx(h) - 1.5, y: B, width: 3, height: RUG - B, fill: '#000'}, root);
    
    
    const s = mk('rect', {x: sx(h) - 1.5, y: RUG, width: 3, height: BAR - RUG, fill: '#000', opacity: 0.06}, root);
    
    
  });

  const base = mk('line', {x1: L - 2, x2: R + 2, y1: BAR + 1, y2: BAR + 1, stroke: '#111', 'stroke-width': 4}, root);
  
  
  const left = mk('line', {x1: L, x2: L, y1: B, y2: BAR, stroke: '#111', 'stroke-width': 2.4}, root);
  
  

  rankTicks.forEach((v, i) => {
    const t = mk('line', {x1: sx(v), x2: sx(v), y1: BAR + 1, y2: BAR + 9, stroke: '#333', 'stroke-width': 2.4}, root);
    
    
    const l = mk('text', {x: sx(v), y: LAB, 'text-anchor': 'middle', 'font-size': 26, fill: '#111'}, root);
    
    
    l.textContent = rankTickLabels[i];
  });
  esMajor.forEach((v, i) => {
    const t = mk('line', {x1: L - 10, x2: L, y1: sy(v), y2: sy(v), stroke: '#333', 'stroke-width': 2.4}, root);
    
    
    const l = mk('text', {x: L - 18, y: sy(v) + 14.5, 'text-anchor': 'end', 'font-size': 40, fill: '#111'}, root);
    
    
    l.textContent = esMajorLabels[i];
  });
}
gseaPanel('panelC', 1380, 2201, 95.5, 865.4, 480.6, 945.6, 979.5, 1012, alzRank, alzScore, alzHits, alzBinEnd, alzBinColor);
gseaPanel('panelD', 1380, 2201, 1125, 1896, 1510.8, 1976, 2008.5, 2041, oxRank, oxScore, oxHits, oxBinEnd, oxBinColor);
gseaPanel('panelE', 2393, 3212, 95.5, 865.4, 480.6, 945.6, 979.5, 1012, hunRank, hunScore, hunHits, hunBinEnd, hunBinColor);
gseaPanel('panelF', 2393, 3212, 1125, 1896, 1510.8, 1976, 2008.5, 2041, parRank, parScore, parHits, parBinEnd, parBinColor);
</script>
</body>
</html>
